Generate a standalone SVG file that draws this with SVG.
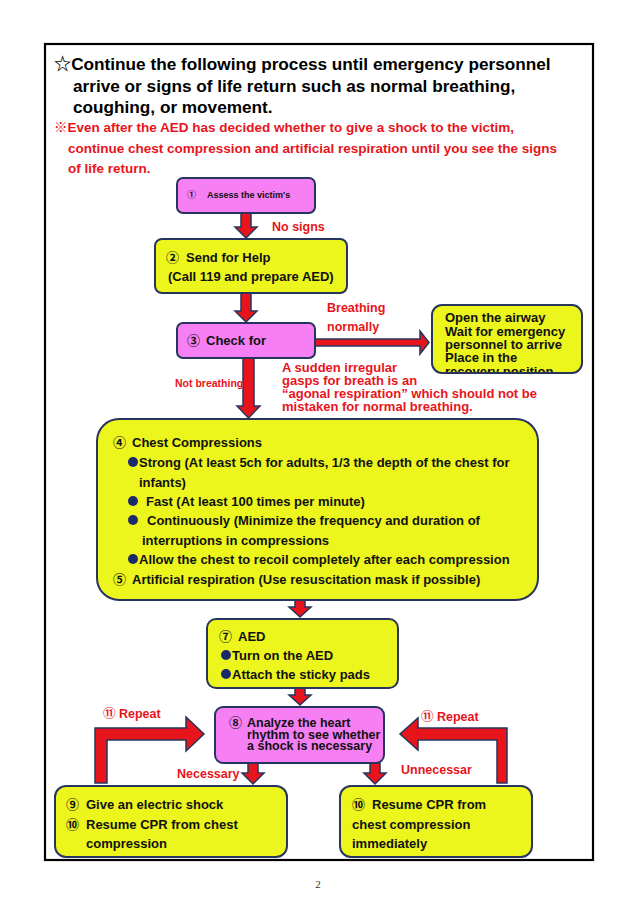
<svg xmlns="http://www.w3.org/2000/svg" width="638" height="903" viewBox="0 0 638 903">
<style>
text{font-family:"Liberation Sans","Noto Sans CJK JP",Arial,sans-serif;font-weight:bold}
.h{font-size:17.2px;fill:#000}
.r{font-size:13.5px;fill:#e8141b}
.rl{font-size:12.5px;fill:#e8141b}
.t{font-size:13px;fill:#111}
.y{fill:#ecf51c;stroke:#27345e;stroke-width:2}
.m{fill:#f57ff3;stroke:#27345e;stroke-width:2}
.a{fill:#e8141b;stroke:#27345e;stroke-width:1.5;stroke-linejoin:miter}
.bl{fill:#1b2a6b}
</style>
<defs>
<clipPath id="clipAir"><rect x="433" y="306" width="147" height="66"/></clipPath>
</defs>
<rect x="0" y="0" width="638" height="903" fill="#fff"/>
<rect x="45" y="44" width="548" height="816" fill="none" stroke="#000" stroke-width="2.2"/>

<g id="header">
<text class="h" x="54" y="70">☆Continue the following process until emergency personnel</text>
<text class="h" x="73" y="92">arrive or signs of life return such as normal breathing,</text>
<text class="h" x="73" y="113">coughing, or movement.</text>
<text class="r" x="54" y="132">※Even after the AED has decided whether to give a shock to the victim,</text>
<text class="r" x="68" y="153">continue chest compression and artificial respiration until you see the signs</text>
<text class="r" x="68" y="173">of life return.</text>
</g>

<g id="connectors">
<polygon class="a" points="241,213 251,213 251,227 257,227 246,238 235,227 241,227"/>
<polygon class="a" points="241,293 251,293 251,311 257,311 246,322 235,311 241,311"/>
<polygon class="a" points="243,358 254,358 254,406 260,406 248.5,418 237,406 243,406"/>
<polygon class="a" points="315,339 420,339 420,331 429,342.5 420,354 420,346 315,346"/>
<polygon class="a" points="295,600 305,600 305,607 311,607 300,617 289,607 295,607"/>
<polygon class="a" points="295,688 305,688 305,695 311,695 300,705 289,695 295,695"/>
<polygon class="a" points="248,763 258,763 258,773 264,773 253,784 242,773 248,773"/>
<polygon class="a" points="370,763 380,763 380,773 386,773 375,784 364,773 370,773"/>
<polygon class="a" points="95,783 95,728 186,728 186,717 204,734 186,751 186,740 107,740 107,783"/>
<polygon class="a" points="507,783 507,728 418,728 418,718 400,734 418,750 418,740 497,740 497,783"/>
<text class="rl" x="272" y="231">No signs</text>
<text class="rl" x="327" y="312">Breathing</text>
<text class="rl" x="327" y="331">normally</text>
<text x="175" y="387" style="font-size:10.5px;fill:#e8141b">Not breathing</text>
<text class="rl" x="103" y="718">⑪ Repeat</text>
<text class="rl" x="421" y="721">⑪ Repeat</text>
<text class="rl" x="177" y="778">Necessary</text>
<text class="rl" x="401" y="774">Unnecessar</text>
</g>

<g id="node1">
<rect class="m" x="177" y="178" width="138" height="35" rx="6"/>
<text x="187" y="198" style="font-size:9px;fill:#111">①</text>
<text x="207" y="198" style="font-size:9px;fill:#111">Assess the victim's</text>
</g>

<g id="node2">
<rect class="y" x="155" y="239" width="192" height="54" rx="7"/>
<text class="t" x="166" y="262">②</text>
<text class="t" x="186" y="262">Send for Help</text>
<text class="t" x="168" y="281">(Call 119 and prepare AED)</text>
</g>

<g id="node3">
<rect class="m" x="177" y="323" width="138" height="35" rx="6"/>
<text class="t" x="187" y="345">③</text>
<text class="t" x="206" y="345">Check for</text>
</g>

<g id="nodeAirway">
<rect class="y" x="432" y="305" width="150" height="68" rx="10"/>
<g clip-path="url(#clipAir)">
<text class="t" x="445" y="322">Open the airway</text>
<text class="t" x="445" y="336">Wait for emergency</text>
<text class="t" x="445" y="349">personnel to arrive</text>
<text class="t" x="445" y="362">Place in the</text>
<text class="t" x="445" y="376">recovery position</text>
</g>
</g>

<g id="agonalNote">
<text class="rl" x="282" y="372" style="font-size:13px">A sudden irregular</text>
<text class="rl" x="282" y="385" style="font-size:13px">gasps for breath is an</text>
<text class="rl" x="282" y="398" style="font-size:13px">“agonal respiration” which should not be</text>
<text class="rl" x="282" y="411" style="font-size:13px">mistaken for normal breathing.</text>
</g>

<g id="node4">
<rect class="y" x="97" y="419" width="441" height="181" rx="22"/>
<text class="t" x="113" y="447">④</text>
<text class="t" x="132" y="447">Chest Compressions</text>
<circle class="bl" cx="133" cy="462" r="5"/>
<text class="t" x="139" y="467">Strong (At least 5ch for adults, 1/3 the depth of the chest for</text>
<text class="t" x="139" y="487">infants)</text>
<circle class="bl" cx="133" cy="501" r="5"/>
<text class="t" x="146" y="506">Fast (At least 100 times per minute)</text>
<circle class="bl" cx="133" cy="520" r="5"/>
<text class="t" x="147" y="525">Continuously (Minimize the frequency and duration of</text>
<text class="t" x="142" y="545">interruptions in compressions</text>
<circle class="bl" cx="133" cy="559" r="5"/>
<text class="t" x="139" y="564">Allow the chest to recoil completely after each compression</text>
<text class="t" x="113" y="584">⑤</text>
<text class="t" x="132" y="584">Artificial respiration (Use resuscitation mask if possible)</text>
</g>

<g id="node7">
<rect class="y" x="207" y="619" width="191" height="69" rx="9"/>
<text class="t" x="219" y="641">⑦</text>
<text class="t" x="238" y="641">AED</text>
<circle class="bl" cx="226" cy="655" r="5"/>
<text class="t" x="232" y="660">Turn on the AED</text>
<circle class="bl" cx="226" cy="674" r="5"/>
<text class="t" x="232" y="679">Attach the sticky pads</text>
</g>

<g id="node8">
<rect class="m" x="215" y="707" width="169" height="56" rx="8"/>
<text class="t" x="229" y="727">⑧</text>
<text class="t" x="247" y="727" style="font-size:12.5px">Analyze the heart</text>
<text class="t" x="247" y="739" style="font-size:12.5px">rhythm to see whether</text>
<text class="t" x="247" y="750" style="font-size:12.5px">a shock is necessary</text>
</g>

<g id="node9">
<rect class="y" x="55" y="786" width="232" height="71" rx="11"/>
<text class="t" x="66" y="809">⑨</text>
<text class="t" x="86" y="809">Give an electric shock</text>
<text class="t" x="66" y="829">⑩</text>
<text class="t" x="86" y="829">Resume CPR from chest</text>
<text class="t" x="86" y="848">compression</text>
</g>

<g id="node10">
<rect class="y" x="340" y="786" width="192" height="71" rx="11"/>
<text class="t" x="352" y="809">⑩</text>
<text class="t" x="372" y="809">Resume CPR from</text>
<text class="t" x="352" y="829">chest compression</text>
<text class="t" x="352" y="848">immediately</text>
</g>

<text x="318" y="888" text-anchor="middle" style="font-family:'Liberation Serif',serif;font-weight:normal;font-size:11px;fill:#333">2</text>
</svg>
